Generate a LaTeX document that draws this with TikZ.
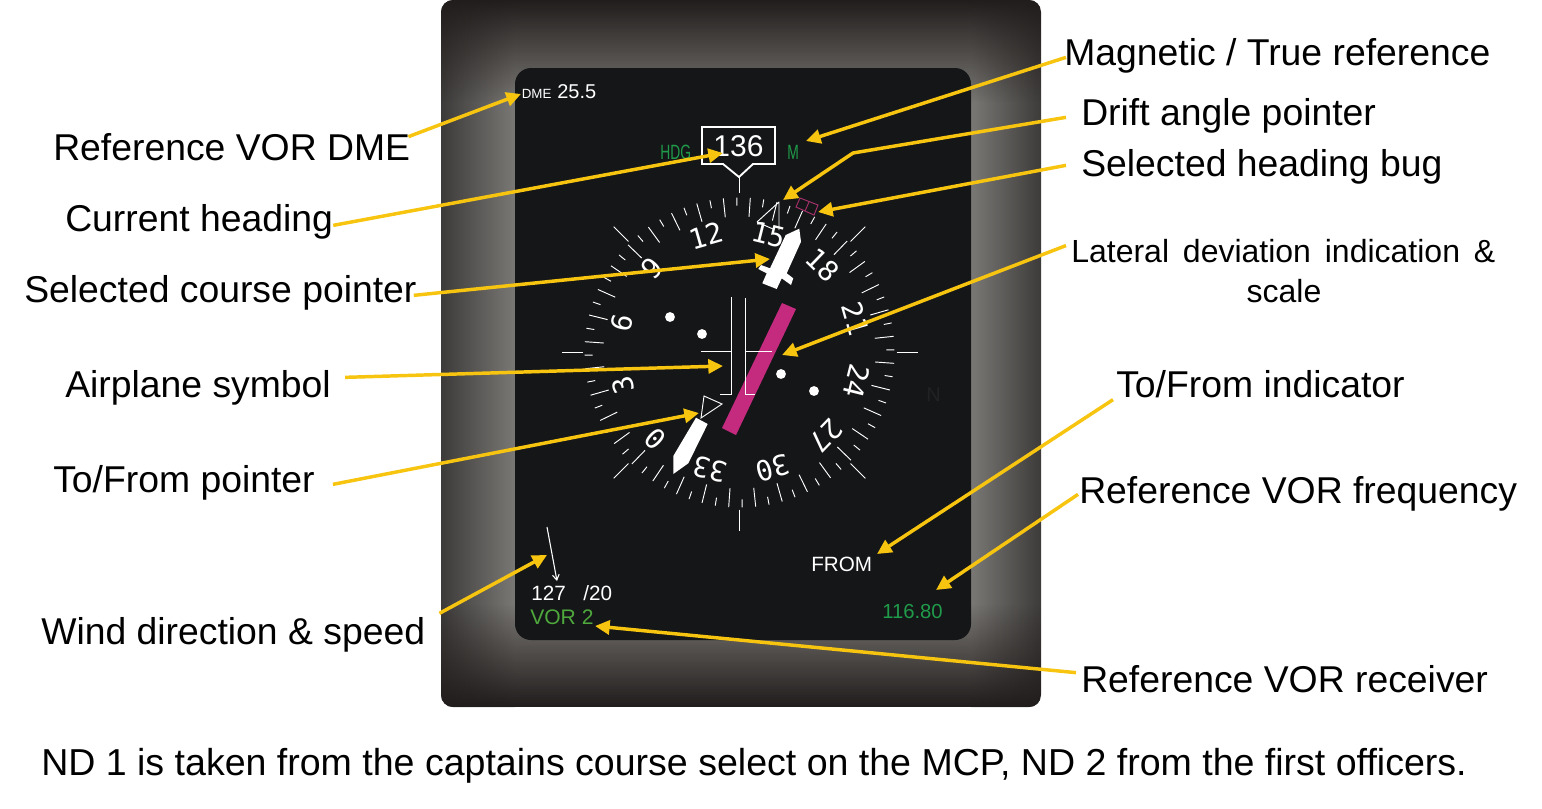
\documentclass[tikz,border=0pt]{standalone}
\usepackage{fontspec}
\usepackage{graphicx}
\setmainfont{Liberation Sans}
\newfontfamily\dialfont{DejaVu Sans Mono}
\usetikzlibrary{arrows.meta}
\definecolor{screenbg}{HTML}{151618}
\definecolor{bezeldark}{HTML}{211D1C}
\definecolor{bezelside}{HTML}{3D3B39}
\definecolor{bezellight}{HTML}{7A7875}
\definecolor{callout}{HTML}{F7C510}
\definecolor{ndgreen}{HTML}{1F9B4A}
\definecolor{ndlime}{HTML}{4EA83C}
\definecolor{ndmag}{HTML}{C42A7E}
\definecolor{ndbug}{HTML}{A8326E}
\newcommand{\fs}[1]{\fontsize{#1pt}{#1pt}\selectfont}
\tikzset{
  calllabel/.style={anchor=base west,inner sep=0pt,text=black,font=\fs{28}},
  calllabelsm/.style={inner sep=0pt,text=black,font=\fs{24}},
  callarrow/.style={draw=callout,line width=2.6pt,-{Triangle[length=11pt,width=10.5pt]},line join=round},
  ndtext/.style={anchor=base west,inner sep=0pt,text=white,font=\fs{15.5}},
  ndgreentext/.style={anchor=base west,inner sep=0pt,text=ndgreen,font=\fs{15.5}},
  dialnum/.style={inner sep=0pt,text=white,font=\dialfont\fs{21}},
  dialline/.style={draw=white,line width=0.7pt},
  dialdot/.style={fill=white,draw=none},
  whiteshape/.style={fill=white,draw=none}
}
\begin{document}
\begin{tikzpicture}[x=0.75pt,y=-0.75pt]
\useasboundingbox (0,0) rectangle (1542,808);
% bezel
\begin{scope}
\clip[rounded corners=9pt] (441,0) rectangle (1041,707);
\shade[left color=bezelside,right color=bezellight] (441,0) rectangle (515,707);
\fill[bezellight] (515,0) rectangle (971,707);
\shade[left color=bezellight,right color=bezelside] (971,0) rectangle (1041,707);
\foreach \s in {0,2,...,102}{
  \pgfmathsetmacro{\op}{1-(\s+1)/103}
  \fill[bezeldark,fill opacity=\op] (441,\s) rectangle (1041,\s+2);
  \fill[bezeldark,fill opacity=\op] (441,707-\s) rectangle (1041,705-\s);
}
\end{scope}
\fill[screenbg,rounded corners=12pt] (515,68) rectangle (971,640);
% dial ticks
\foreach \h in {0,5,...,355}{
  \pgfmathsetmacro{\a}{\h-136}
  \pgfmathtruncatemacro{\ismaj}{mod(\h,10)==0 ? 1 : 0}
  \pgfmathsetmacro{\ri}{\ismaj==1 ? 136 : 147}
  \draw[dialline] ({739.5+\ri*sin(\a)},{352.5-\ri*cos(\a)}) -- ({739.5+155*sin(\a)},{352.5-155*cos(\a)});
}
\foreach \a in {45,90,135,180,225,270,315}{
  \draw[dialline] ({739.5+157*sin(\a)},{352.5-157*cos(\a)}) -- ({739.5+178*sin(\a)},{352.5-178*cos(\a)});
}
% dial numerals
\foreach \h/\t in {0/0,30/3,60/6,90/9,120/12,150/15,180/18,210/21,240/24,270/27,300/30,330/33}{
  \pgfmathsetmacro{\a}{\h-136}
  \node[dialnum,rotate={-\a},name=num\h] at ({739+121*sin(\a)},{352-121*cos(\a)}) {\t};
}
% heading box
\draw[draw=white,line width=1.4pt,line join=miter] (702,127) -- (775,127) -- (775,164) -- (753,164) -- (739,177) -- (723,164) -- (702,164) -- cycle;
\draw[dialline] (739,177) -- (739,193);
\node[inner sep=0pt,anchor=base,text=white,font=\fs{22.5}] (hdgval) at (738.5,156) {136};
\node[ndgreentext] (hdglbl) at (660,159) {\scalebox{.67}[1]{HDG}};
\node[ndgreentext] (mlbl) at (787,159) {\scalebox{.67}[1]{M}};
% drift triangle
\draw[dialline,line join=round] (757,222) -- (779,202) -- (779,230);
\draw[dialline] (757,222) -- (773,229);
% selected heading bug
\draw[draw=ndbug,line width=0.7pt] (800,198) -- (818,205) -- (814,215) -- (796,207) -- cycle;
\draw[draw=ndbug,line width=0.7pt] (809,202) -- (805,211);
% course pointers
\fill[whiteshape] (799.3,228.7) -- (801,241.7) -- (786.7,273.3) -- (793.3,278.3) -- (791,285) -- (781.7,278.3) -- (776.7,289) -- (762.3,283.3) -- (766.7,273.3) -- (758.3,269) -- (761,265) -- (770,268.3) -- (785.7,235) -- cycle;
\fill[whiteshape] (696,417.7) -- (707.7,424) -- (688.3,463.3) -- (673.3,474) -- (673.3,456) -- cycle;
\draw[dialline,line join=miter] (704,396) -- (722,404) -- (701,418) -- cycle;
% deviation bar
\fill[ndmag] (782,303) -- (796,309) -- (736,435) -- (722,428) -- cycle;
% deviation dots
\foreach \px/\py in {670/317,702/334,781/374,814/391}{
  \fill[dialdot] (\px,\py) circle (3.7pt);
}
% airplane symbol
\draw[dialline] (701,351.5) -- (731.5,351.5);
\draw[dialline] (731.5,297) -- (731.5,394.5) -- (720,394.5);
\draw[dialline] (745.5,298) -- (745.5,394.5) -- (755,394.5);
\draw[dialline] (745.5,351.5) -- (772,351.5);
% screen text
\node[inner sep=0pt,anchor=base west,text=white,font=\fs{10}] (dmelbl) at (521.5,98) {DME};
\node[ndtext,font=\fs{15}] (dmeval) at (557,98) {25.5};
\node[ndtext] (windval) at (531,600) {127};
\node[ndtext] (windspd) at (583,600) {/20};
\node[inner sep=0pt,anchor=base west,text=ndlime,font=\fs{15.8}] (vorname) at (530,624) {VOR 2};
\node[ndgreentext,font=\fs{15.2}] (vorfreq) at (882,618) {116.80};
\node[ndtext] (fromlbl) at (811,571) {FROM};
\node[inner sep=0pt,anchor=base west,text=screenbg!95!white,font=\fs{15}] (northlbl) at (926,401) {N};
\draw[draw=white,line width=0.8pt,-{Straight Barb[length=4pt,width=5pt]}] (547,527) -- (557,581);
% callout labels
\node[calllabel] (lblvordme) at (53,160) {Reference VOR DME};
\node[calllabel] (lblhdg) at (65,231) {Current heading};
\node[calllabel] (lblcourse) at (24,302) {Selected course pointer};
\node[calllabel] (lblplane) at (65,397) {Airplane symbol};
\node[calllabel] (lblptr) at (53,492) {To/From pointer};
\node[calllabel] (lblwind) at (41,644) {Wind direction \& speed};
\node[calllabel] (lblmag) at (1064,65) {Magnetic / True reference};
\node[calllabel] (lbldrift) at (1081,125) {Drift angle pointer};
\node[calllabel] (lblbug) at (1081,176) {Selected heading bug};
\node[calllabel,font=\fs{24}] (lbllat) at (1071,262) {\spaceskip=10.4pt\relax Lateral deviation indication \&};
\node[calllabelsm,anchor=base] (lblscale) at (1284,302) {scale};
\node[calllabel] (lbltofrom) at (1116,397) {To/From indicator};
\node[calllabel] (lblfreq) at (1079,503) {Reference VOR frequency};
\node[calllabel] (lblrecv) at (1081,692) {Reference VOR receiver};
\node[calllabel,font=\fs{28.15}] (lblnote) at (41,775) {ND 1 is taken from the captains course select on the MCP, ND 2 from the first officers.};
% targets
\coordinate (tvordme) at (521,94);
\coordinate (thdg) at (723,153);
\coordinate (tcourse) at (770,259);
\coordinate (tplane) at (723,366);
\coordinate (tptr) at (699,413);
\coordinate (twind) at (547,555);
\coordinate (tmag) at (806,141);
\coordinate (tdriftbend) at (853,153);
\coordinate (tdrift) at (783,200);
\coordinate (tbug) at (818,212);
\coordinate (tlat) at (782,355);
\coordinate (ttofrom) at (877,554);
\coordinate (tfreq) at (936,590);
\coordinate (trecv) at (595,626);
% callout connectors
\draw[callarrow] ([shift={(-2,-10)}]lblvordme.east) -- (tvordme);
\draw[callarrow] ([shift={(0,4)}]lblhdg.east) -- (thdg);
\draw[callarrow] ([shift={(-3,3)}]lblcourse.east) -- (tcourse);
\draw[callarrow] ([shift={(14,-10)}]lblplane.east) -- (tplane);
\draw[callarrow] ([shift={(18,2)}]lblptr.east) -- (tptr);
\draw[callarrow] ([shift={(14,-21)}]lblwind.east) -- (twind);
\draw[callarrow] ([shift={(2,2)}]lblmag.west) -- (tmag);
\draw[callarrow] ([shift={(-15,2)}]lbldrift.west) -- (tdriftbend) -- (tdrift);
\draw[callarrow] ([shift={(-15,-1)}]lblbug.west) -- (tbug);
\draw[callarrow] ([shift={(-5,-5)}]lbllat.west) -- (tlat);
\draw[callarrow] ([shift={(-3,16)}]lbltofrom.west) -- (ttofrom);
\draw[callarrow] ([shift={(-1,1)}]lblfreq.west) -- (tfreq);
\draw[callarrow] ([shift={(-5,-6)}]lblrecv.west) -- (trecv);
\end{tikzpicture}
\end{document}
